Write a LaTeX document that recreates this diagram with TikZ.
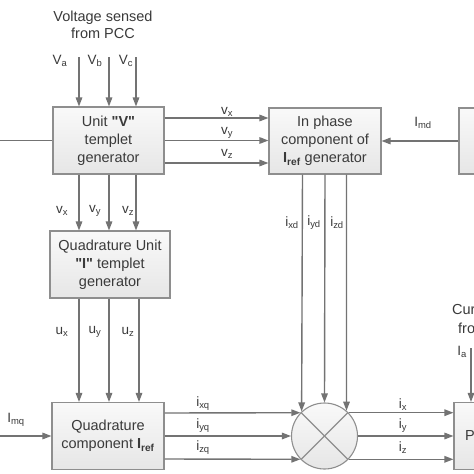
\documentclass[tikz,border=0pt]{standalone}
\usepackage{fontspec}
\setmainfont{Liberation Sans}[Ligatures=TeXOff]
\usetikzlibrary{arrows.meta,calc}
\definecolor{ln}{HTML}{737373}
\definecolor{bd}{HTML}{8E8E8E}
\definecolor{bt}{HTML}{F9F9F9}
\definecolor{bb}{HTML}{E6E6E6}
\definecolor{tx}{HTML}{3A3A3A}
\begin{document}
\begin{tikzpicture}[x=1pt,y=-1pt,
  box/.style={draw=bd, line width=1.1pt, top color=bt, bottom color=bb,
    text=tx, font=\fontsize{14.5}{18}\selectfont, align=center, inner sep=0pt},
  txt/.style={text=tx, font=\fontsize{14.5}{17}\selectfont, align=center, inner sep=0pt},
  lab/.style={text=tx, font=\fontsize{13.5}{16}\selectfont, inner sep=0pt},
  wire/.style={draw=ln, line width=1.4pt},
  arr/.style={draw=ln, line width=1.4pt, -{Triangle[length=9pt,width=6.5pt]}, color=ln}]
\useasboundingbox (0,0) rectangle (474,474);
\fill[white] (0,0) rectangle (474,474);

% title
\node[txt] (title) at (103,25) {Voltage sensed\\from PCC};

% boxes
\node[box, minimum width=111pt, minimum height=67pt] (uv) at (108.5,140.5) {Unit \textbf{"V"}\\templet\\generator};
\node[box, minimum width=112pt, minimum height=66pt] (ip) at (325,141) {In phase\\component of\\\textbf{I}\textsubscript{\textbf{ref}} generator};
\node[box, minimum width=120pt, minimum height=67pt] (qu) at (110,264.5) {Quadrature Unit\\\textbf{"I"} templet\\generator};
\node[box, minimum width=112pt, minimum height=67pt] (qc) at (108,436) {Quadrature\\component \textbf{I}\textsubscript{\textbf{ref}}};
\node[box, minimum width=42pt, minimum height=66pt] (rt) at (480,141) {};
\node[box, minimum width=48pt, minimum height=67pt] (rb) at (478,436) {};
\node[txt, anchor=west] (ptxt) at (465,436) {P};
\node[circle, draw=bd, line width=1.1pt, top color=bt, bottom color=bb, minimum size=66pt, inner sep=0pt] (cx) at (324.5,436) {};
\draw[draw=bd, line width=1.1pt] (cx.45) -- (cx.225);
\draw[draw=bd, line width=1.1pt] (cx.135) -- (cx.315);

% top inputs
\coordinate (va) at (79,57);
\coordinate (vb) at (109,57);
\coordinate (vc) at (136,57);
\draw[arr] (va) -- (va |- uv.north);
\draw[arr] (vb) -- (vb |- uv.north);
\draw[arr] (vc) -- (vc |- uv.north);
\node[lab] (lva) at (60,61) {V\textsubscript{a}};
\node[lab] (lvb) at (95,61) {V\textsubscript{b}};
\node[lab] (lvc) at (126,61) {V\textsubscript{c}};

% left line into unit V
\coordinate (lin) at (0,140.5);
\draw[wire] (lin) -- (uv.west);

% unit V to in phase
\draw[arr] ([yshift=22.5pt]uv.east) -- ([yshift=22.5pt]uv.east -| ip.west);
\draw[arr] (uv.east) -- (uv.east -| ip.west);
\draw[arr] ([yshift=-22.5pt]uv.east) -- ([yshift=-22.5pt]uv.east -| ip.west);
\node[lab] (lvx1) at (227,112) {v\textsubscript{x}};
\node[lab] (lvy1) at (227,133) {v\textsubscript{y}};
\node[lab] (lvz1) at (227,154) {v\textsubscript{z}};

% Imd
\draw[arr] (rt.west) -- (ip.east);
\node[lab] (limd) at (423,123) {I\textsubscript{md}};

% unit V to quadrature unit
\coordinate (d1) at ([xshift=-29.5pt]uv.south);
\coordinate (d2) at ([xshift=0.5pt]uv.south);
\coordinate (d3) at ([xshift=27.5pt]uv.south);
\draw[arr] (d1) -- (d1 |- qu.north);
\draw[arr] (d2) -- (d2 |- qu.north);
\draw[arr] (d3) -- (d3 |- qu.north);
\node[lab] (lvx2) at (62,211) {v\textsubscript{x}};
\node[lab] (lvy2) at (95,211) {v\textsubscript{y}};
\node[lab] (lvz2) at (128,211) {v\textsubscript{z}};

% quadrature unit to quadrature component
\coordinate (e1) at ([xshift=-31pt]qu.south);
\coordinate (e2) at ([xshift=-1pt]qu.south);
\coordinate (e3) at ([xshift=29pt]qu.south);
\draw[arr] (e1) -- (e1 |- qc.north);
\draw[arr] (e2) -- (e2 |- qc.north);
\draw[arr] (e3) -- (e3 |- qc.north);
\node[lab] (lux) at (62,332) {u\textsubscript{x}};
\node[lab] (luy) at (95,332) {u\textsubscript{y}};
\node[lab] (luz) at (128,332) {u\textsubscript{z}};

% Imq
\coordinate (imq) at (0,436);
\draw[arr] (imq) -- (qc.west);
\node[lab] (limq) at (16,420) {I\textsubscript{mq}};

% quadrature component to multiplier
\draw[arr] ([yshift=23pt]qc.east) -- (cx.136);
\draw[arr] (qc.east) -- (cx.west);
\draw[arr] ([yshift=-23pt]qc.east) -- (cx.224);
\node[lab] (lixq) at (203,404) {i\textsubscript{xq}};
\node[lab] (liyq) at (203,426) {i\textsubscript{yq}};
\node[lab] (lizq) at (203,448) {i\textsubscript{zq}};

% in phase to multiplier
\draw[arr] ([xshift=-22.5pt]ip.south) -- (cx.133);
\draw[arr] (ip.south) -- (cx.north);
\draw[arr] ([xshift=21.5pt]ip.south) -- (cx.49);
\node[lab] (lixd) at (292,223) {i\textsubscript{xd}};
\node[lab] (liyd) at (314,223) {i\textsubscript{yd}};
\node[lab] (lizd) at (337,223) {i\textsubscript{zd}};

% multiplier to right box
\draw[arr] (cx.44) -- (rb.west |- cx.44);
\draw[arr] (cx.east) -- (rb.west |- cx.east);
\draw[arr] (cx.316) -- (rb.west |- cx.316);
\node[lab] (lix) at (403,405) {i\textsubscript{x}};
\node[lab] (liy) at (403,426) {i\textsubscript{y}};
\node[lab] (liz) at (403,448) {i\textsubscript{z}};

% current sensed
\node[txt, anchor=west] (cur) at (452,310) {Cur};
\node[txt, anchor=west] (fro) at (458,328) {fro};
\coordinate (ia) at (471,348);
\draw[arr] (ia) -- (ia |- rb.north);
\node[lab] (lia) at (462,352) {I\textsubscript{a}};
\end{tikzpicture}
\end{document}
